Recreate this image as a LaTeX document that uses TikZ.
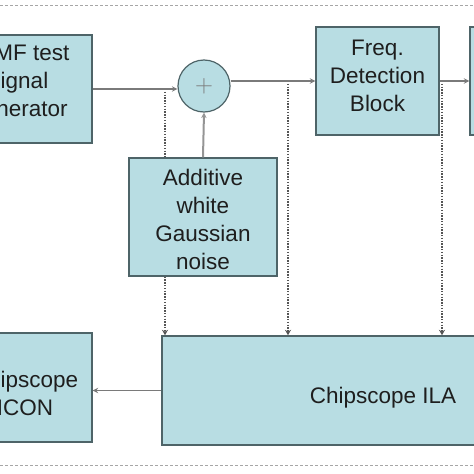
\documentclass[tikz,border=0pt]{standalone}
\usepackage{fontspec}
\setmainfont{Liberation Sans}
\usetikzlibrary{arrows.meta}
\definecolor{boxfill}{HTML}{B8DDE3}
\definecolor{boxline}{HTML}{4E6468}
\definecolor{conn}{HTML}{7A7A7A}
\definecolor{dotc}{HTML}{555555}
\definecolor{txt}{HTML}{1E1E1E}
\tikzset{
  blockbox/.style={draw=boxline, fill=boxfill, line width=1.4pt, inner sep=0pt},
  blocktext/.style={inner sep=0pt, align=center, text=txt,
    font=\fontsize{22.5}{28}\selectfont},
  sumnode/.style={circle, draw=boxline, fill=boxfill, line width=1.2pt, inner sep=0pt,
    minimum size=52pt, text=conn, font=\fontsize{34}{34}\selectfont},
  solidconn/.style={draw=conn, line width=1.2pt, -{Stealth[open,length=5.5pt,width=5.5pt]}},
  tapconn/.style={draw=dotc, line width=1.3pt, dash pattern=on 1.4pt off 1.4pt,
    -{Stealth[open,length=5.5pt,width=6pt]}},
  frameline/.style={draw=gray!70, line width=1pt, dash pattern=on 3pt off 2pt}
}
\begin{document}
\begin{tikzpicture}[x=1pt,y=-1pt]
\useasboundingbox (0,0) rectangle (474,474);
\clip (0,0) rectangle (474,474);
\draw[frameline] (0,5) -- (474,5);
\draw[frameline] (0,465) -- (474,465);

\node[blockbox, minimum width=150pt, minimum height=108pt] (gen) at (17,89) {};
\node[blocktext] (gentext) at (gen.center |- 0,81) {DTMF test\\Signal\\Generator};
\node[sumnode] (circ) at (204,86) {$+$};
\node[blockbox, minimum width=123pt, minimum height=108pt] (freq) at (377.5,81) {};
\node[blocktext] (freqtext) at (freq.center |- 0,75.5) {Freq.\\Detection\\Block};
\node[blockbox, minimum width=90pt, minimum height=108pt] (rbox) at (515,81) {};
\node[blockbox, minimum width=134pt, minimum height=109pt] (icon) at (25,387.5) {};
\node[blocktext] (icontext) at (icon.center |- 0,393) {Chipscope\\ICON};
\node[blockbox, minimum width=442pt, minimum height=109pt] (ila) at (383,390.5) {};
\node[blocktext] (ilatext) at (ila.center |- 0,398) {Chipscope ILA};

\coordinate (t1) at (165,89);
\coordinate (t2) at (288,81);
\coordinate (t3) at (442,81);
\draw[tapconn] (t1) -- (t1 |- ila.north);
\draw[tapconn] (t2) -- (t2 |- ila.north);
\draw[tapconn] (t3) -- (t3 |- ila.north);

\node[blockbox, minimum width=148pt, minimum height=118pt] (awgn) at (203,217) {};
\node[blocktext] (awgntext) at (awgn.center |- 0,219.5) {Additive\\white\\Gaussian\\noise};

\draw[solidconn] (gen.east) -- (gen.east -| circ.west);
\draw[solidconn] (circ.east |- freq.west) -- (freq.west);
\draw[solidconn] (freq.east) -- (rbox.west);
\draw[solidconn, line width=2pt, draw=conn!80] (awgn.north) -- (circ.south);
\draw[solidconn] (ila.west) -- (ila.west -| icon.east);
\end{tikzpicture}
\end{document}
